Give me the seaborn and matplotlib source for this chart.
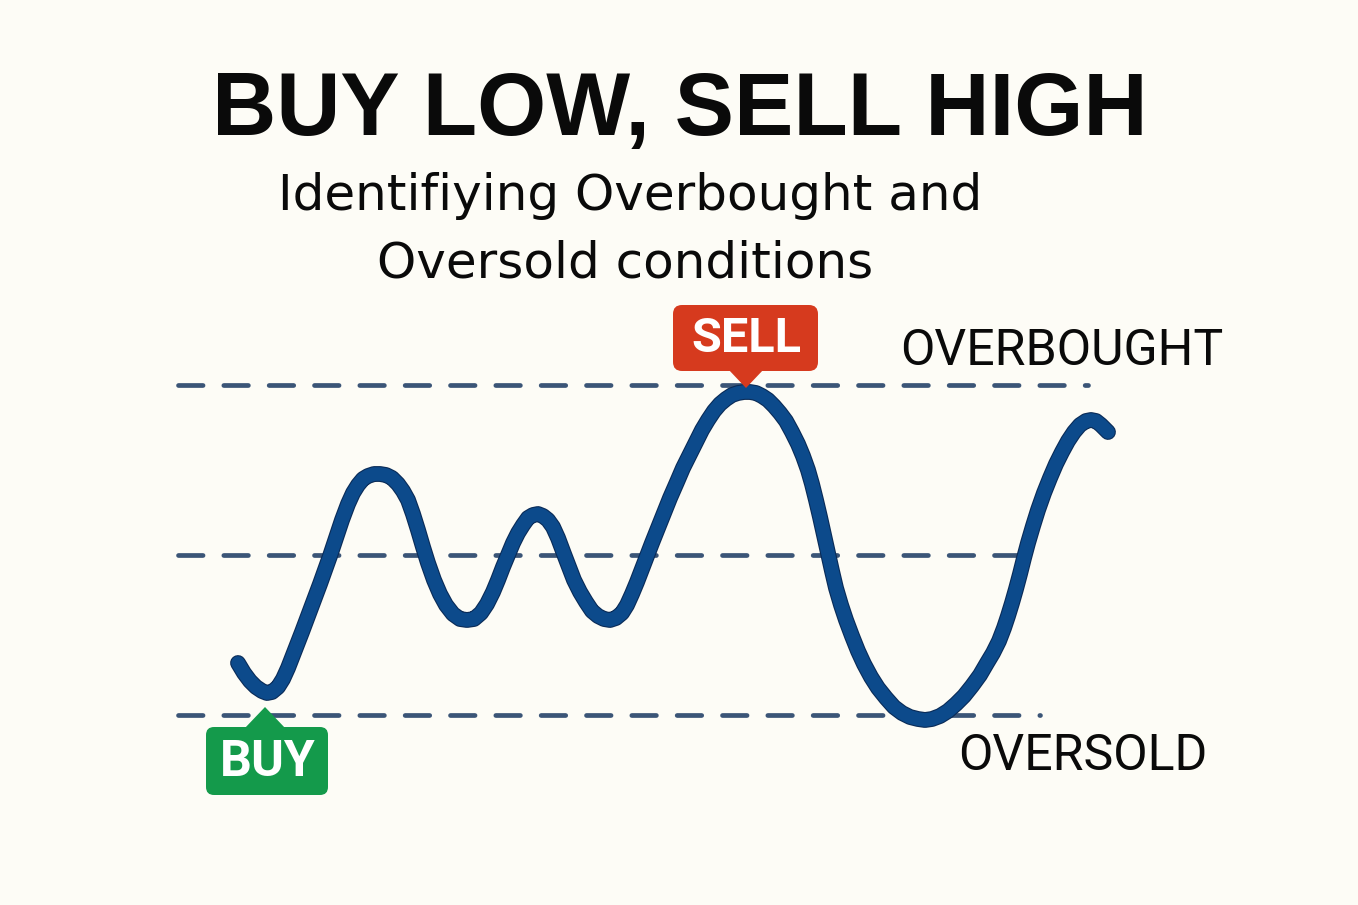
import matplotlib
matplotlib.use("Agg")
import matplotlib.pyplot as plt
import matplotlib.patheffects as pe
from matplotlib.patches import FancyBboxPatch, Polygon
import seaborn as sns
import pandas as pd

# ---------------- data (vertical axis runs downward, screen-like) ----------------
time_x = [238, 244, 250, 256, 262, 267, 272, 278, 283, 288, 295, 302, 308, 314, 320,
          325, 330, 336, 342, 348, 353, 358, 363, 368, 374, 380, 386, 392, 398, 403,
          408, 413, 418, 423, 428, 434, 440, 446, 453, 460, 467, 474, 481, 487, 493,
          498, 503, 508, 513, 518, 523, 528, 533, 538, 543, 548, 553, 558, 564, 569,
          574, 580, 586, 592, 598, 604, 610, 616, 622, 627, 632, 637, 642, 647, 652,
          658, 664, 670, 677, 683, 690, 696, 702, 708, 714, 720, 726, 732, 738, 744,
          750, 756, 762, 768, 774, 780, 786, 792, 798, 803, 808, 812, 816, 820, 824,
          828, 832, 836, 841, 846, 852, 858, 864, 871, 878, 886, 894, 902, 910, 918,
          925, 932, 940, 948, 956, 964, 972, 980, 987, 993, 999, 1004, 1008, 1012, 1016,
          1020, 1024, 1028, 1033, 1038, 1044, 1050, 1056, 1062, 1068, 1074, 1080, 1086, 1091, 1096,
          1101, 1105, 1108]
level_y = [663, 673, 681, 687, 691, 693, 692, 687, 679, 668, 650, 632, 616, 600, 584,
           570, 556, 538, 520, 504, 493, 485, 479, 476, 474, 474, 475, 478, 484, 491,
           500, 514, 530, 547, 563, 580, 594, 605, 614, 619, 620, 619, 613, 604, 592,
           580, 567, 555, 543, 533, 525, 518, 515, 514, 516, 520, 527, 538, 554, 567,
           580, 592, 602, 611, 616, 619, 620, 618, 613, 605, 594, 582, 569, 556, 543,
           528, 513, 498, 482, 468, 454, 442, 430, 420, 411, 404, 399, 395, 393, 392,
           392, 393, 396, 400, 406, 413, 421, 432, 444, 456, 470, 484, 500, 517, 535,
           553, 571, 588, 605, 620, 636, 651, 664, 677, 688, 698, 707, 713, 717, 719,
           720, 719, 716, 711, 704, 696, 686, 675, 663, 653, 641, 628, 616, 603, 589,
           574, 558, 543, 526, 510, 493, 478, 464, 452, 441, 432, 425, 421, 420, 421,
           425, 429, 432]

zone_names = ["OVERBOUGHT", "MIDLINE", "OVERSOLD"]
zone_levels = [385, 555, 715]
zone_start = [178, 178, 178]
zone_end = [1088, 1022, 1040]

title = "BUY LOW, SELL HIGH"
subtitle_lines = ["Identifiying Overbought and", "Oversold conditions"]
signal_labels = ["BUY", "SELL"]
signal_x = [265, 746]

# ---------------- style ----------------
sns.set_theme(style="white")
BG = "#fdfcf6"
LINE = "#0c4a8b"
LINE_EDGE = "#0a2b57"
DASH = "#3b5577"
RED = "#d63a1e"
GREEN = "#149a4b"
INK = "#0a0a0a"

fig = plt.figure(figsize=(13.58, 9.05), dpi=100, facecolor=BG)
ax = fig.add_axes([0, 0, 1, 1])
ax.set_facecolor(BG)

# dashed zone lines
for lvl, x0, x1 in zip(zone_levels, zone_start, zone_end):
    ax.plot([x0, x1], [lvl, lvl], color=DASH, lw=3.4, dashes=(5.2, 4.4),
            dash_capstyle="round", zorder=1)

# main curve
df = pd.DataFrame({"t": time_x, "v": level_y})
sns.lineplot(data=df, x="t", y="v", sort=False, ax=ax, color=LINE, lw=9.8,
             zorder=3)
ln = ax.lines[-1]
ln.set_solid_capstyle("round")
ln.set_solid_joinstyle("round")
ln.set_path_effects([pe.Stroke(linewidth=11.4, foreground=LINE_EDGE,
                               capstyle="round", joinstyle="round"),
                     pe.Normal()])

ax.set_xlim(0, 1358)
ax.set_ylim(905, 0)
ax.axis("off")

# text
ax.text(680, 135, title, ha="center", va="baseline",
        fontsize=64, fontweight="bold", family="Liberation Sans", color=INK)
ax.text(630, 210, subtitle_lines[0], ha="center", va="baseline",
        fontsize=36, family="DejaVu Sans", color=INK)
ax.text(625, 277, subtitle_lines[1], ha="center", va="baseline",
        fontsize=36, family="DejaVu Sans", color=INK)
ax.text(1062, 365, zone_names[0], ha="center", va="baseline",
        fontsize=36, family="Roboto", color=INK)
ax.text(1083, 770, zone_names[2], ha="center", va="baseline",
        fontsize=36, family="Roboto", color=INK)

# BUY callout
bx = signal_x[0]
ax.add_patch(FancyBboxPatch((206 + 8, 727 + 8), 122 - 16, 68 - 16,
                            boxstyle="round,pad=8", fc=GREEN, ec="none", zorder=4))
ax.add_patch(Polygon([[bx - 21, 729], [bx + 21, 729], [bx, 707]],
                     closed=True, fc=GREEN, ec="none", zorder=4))
ax.text(bx + 3, 762, signal_labels[0], ha="center", va="center",
        fontsize=36, fontweight="bold", family="Roboto", color="white", zorder=5)

# SELL callout
sx = signal_x[1]
ax.add_patch(FancyBboxPatch((673 + 9, 305 + 9), 145 - 18, 66 - 18,
                            boxstyle="round,pad=9", fc=RED, ec="none", zorder=4))
ax.add_patch(Polygon([[sx - 18, 369], [sx + 18, 369], [sx, 388]],
                     closed=True, fc=RED, ec="none", zorder=4))
ax.text(sx, 339, signal_labels[1], ha="center", va="center",
        fontsize=35, fontweight="bold", family="Roboto", color="white", zorder=5)

fig.savefig("out.png", dpi=100, facecolor=BG)
